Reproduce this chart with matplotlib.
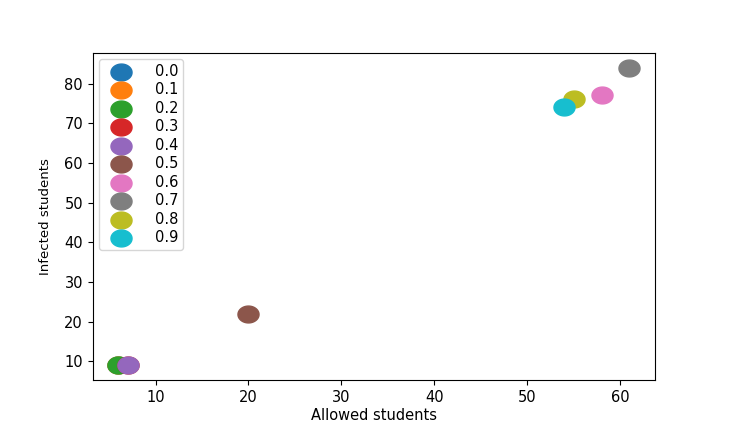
import matplotlib
matplotlib.use("Agg")
import numpy as np
import matplotlib.pyplot as plt
from matplotlib.path import Path

labels = ["0.0", "0.1", "0.2", "0.3", "0.4", "0.5", "0.6", "0.7", "0.8", "0.9"]
allowed = [6, 6, 6, 7, 7, 20, 58, 61, 55, 54]
infected = [9, 9, 9, 9, 9, 22, 77, 84, 76, 74]

# slightly flattened dot, the reference looks stretched sideways
t = np.linspace(0, 2 * np.pi, 60)
dot = Path(np.column_stack([np.cos(t), 0.8 * np.sin(t)]), closed=True)

plt.rcParams["font.size"] = 10.5
fig, ax = plt.subplots(figsize=(7.31, 4.29), dpi=100)
fig.subplots_adjust(left=0.127, right=0.896, top=0.877, bottom=0.114)

for lab, x, y in zip(labels, allowed, infected):
    ax.scatter(x, y, s=230, marker=dot, label=lab)

ax.set_xlabel("Allowed students", labelpad=2)
ax.set_ylabel("Infected students", fontsize=9.5, labelpad=9)
ax.legend(loc="upper left", labelspacing=0.24, borderaxespad=0.45,
          borderpad=0.3, handlelength=2.3, handletextpad=1.2)

fig.savefig("out.png")
